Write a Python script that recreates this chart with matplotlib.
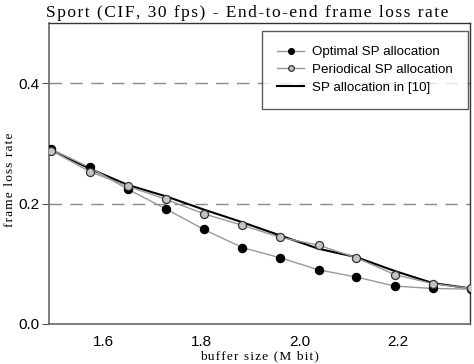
import matplotlib
matplotlib.use("Agg")
import matplotlib.pyplot as plt

buffer_size = [1.495, 1.573, 1.650, 1.728, 1.805, 1.883, 1.960, 2.038, 2.115, 2.193, 2.270, 2.348]
optimal = [0.290, 0.260, 0.224, 0.191, 0.157, 0.127, 0.110, 0.090, 0.078, 0.063, 0.059, 0.058]
periodical = [0.288, 0.253, 0.229, 0.207, 0.183, 0.164, 0.144, 0.131, 0.110, 0.082, 0.067, 0.059]
ref10 = [0.289, 0.258, 0.231, 0.212, 0.190, 0.169, 0.147, 0.125, 0.111, 0.088, 0.068, 0.059]

xticks = [1.6, 1.8, 2.0, 2.2]
yticks = [0.0, 0.2, 0.4]

title = "Sport (CIF, 30 fps) - End-to-end frame loss rate"
xlabel = "buffer size (M bit)"
ylabel = "frame loss rate"


def spaced(s):
    # letter-spaced look of the original typesetting
    return "\u200a".join(s)


fig = plt.figure(figsize=(4.74, 3.64), dpi=100)
ax = fig.add_axes([0.1034, 0.1099, 0.8882, 0.8269])

for y in [0.2, 0.4]:
    ax.axhline(y, color="#888888", lw=1.0, dashes=(9, 6), zorder=1)

ax.plot(buffer_size, ref10, color="black", lw=1.5, zorder=2, label="SP allocation in [10]")
ax.plot(buffer_size, optimal, color="#999999", lw=1.0, marker="o", ms=5.8,
        mfc="black", mec="black", zorder=3, label="Optimal SP allocation")
ax.plot(buffer_size, periodical, color="#999999", lw=1.0, marker="o", ms=5.8,
        mfc="#c4c4c4", mec="#333333", mew=0.9, zorder=4, label="Periodical SP allocation")

ax.set_xlim(1.49, 2.346)
ax.set_ylim(0, 0.5)
ax.set_xticks(xticks)
ax.set_xticklabels([f"{t:.1f}" for t in xticks], fontsize=11, family="Liberation Sans")
ax.set_yticks(yticks)
ax.set_yticklabels([f"{t:.1f}" for t in yticks], fontsize=11, family="Liberation Sans")
ax.tick_params(axis="x", length=0, pad=8)
ax.tick_params(axis="y", length=5, color="#555555", pad=2)

for s in ["left", "bottom"]:
    ax.spines[s].set_color("#666666")
    ax.spines[s].set_linewidth(1.2)
for s in ["top", "right"]:
    ax.spines[s].set_color("#333333")
    ax.spines[s].set_linewidth(1.0)

ax.set_title(spaced(title), fontsize=12.5, family="Liberation Serif", pad=4, x=0.47)
ax.set_xlabel(spaced(xlabel), fontsize=9.6, family="Liberation Serif", labelpad=1)
ax.set_ylabel(spaced(ylabel), fontsize=9.6, family="Liberation Serif")
ax.yaxis.set_label_coords(-0.078, 0.479)

handles, labels = ax.get_legend_handles_labels()
order = [1, 2, 0]
leg = ax.legend([handles[i] for i in order], [labels[i] for i in order],
                loc="upper right", bbox_to_anchor=(0.9952, 0.975), borderaxespad=0,
                prop={"family": "Liberation Sans", "size": 9.6},
                frameon=True, fancybox=False, edgecolor="#333333",
                handlelength=2.0, handletextpad=0.6, borderpad=1.15, labelspacing=0.4,
                markerscale=0.7)
leg.get_frame().set_linewidth(1.0)

fig.savefig("out.png", dpi=100)
